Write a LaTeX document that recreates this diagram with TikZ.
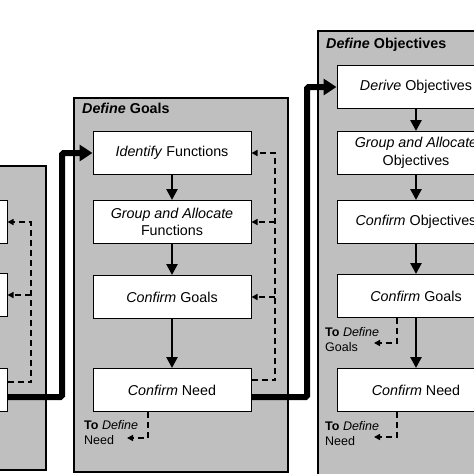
\documentclass[tikz,border=0pt]{standalone}
\usepackage{fontspec}
\setmainfont{Liberation Sans}
\usetikzlibrary{arrows.meta}

\begin{document}
\begin{tikzpicture}[x=1pt,y=-1pt,
  panel/.style={draw, line width=1.2pt, fill=black!25},
  task/.style={draw, line width=1pt, fill=white, minimum width=158pt, minimum height=43pt,
    inner sep=0pt, align=center, font=\fontsize{14.3}{17.5}\selectfont},
  title/.style={anchor=west, inner sep=0pt, font=\bfseries\fontsize{14.3}{16}\selectfont},
  flow/.style={line width=2.6pt, -{Triangle[length=11pt,width=11pt]}},
  handoff/.style={line width=6pt, rounded corners=1.5pt, -{Triangle[length=13pt,width=16pt]}},
  loop/.style={dash pattern=on 6pt off 4pt, line width=1.7pt, -{Triangle[length=6pt,width=6pt]}},
  note/.style={anchor=north west, align=left, inner sep=0pt, font=\fontsize{12.5}{15.5}\selectfont}]
  \useasboundingbox (0,0) rectangle (474,474);
  \clip (0,0) rectangle (474,474);

  % the three stages
  \draw[panel] (-200,166) rectangle (46,470);
  \draw[panel] (74,98) rectangle (288,472);
  \draw[panel] (318,31) rectangle (520,490);

  \node[title] (goalsTitle) at (82,108) {\textit{Define} Goals};
  \node[title] (objTitle) at (326,45) {\textit{Define} Objectives};

  % stage on the left (cut off)
  \node[task] (needA) at (-72,222) {};
  \node[task] (needB) at (-72,295) {};
  \node[task] (needC) at (-72,390) {};

  % Define Goals
  \node[task] (idFun) at (172,153) {\textit{Identify} Functions};
  \node[task] (grpFun) at (172,222) {\textit{Group and Allocate}\\Functions};
  \node[task] (cfmGoals) at (172,297) {\textit{Confirm} Goals};
  \node[task] (cfmNeed) at (172,390) {\textit{Confirm} Need};

  % Define Objectives
  \node[task] (drvObj) at (416,87) {\textit{Derive} Objectives};
  \node[task] (grpObj) at (416,153) {\textit{Group and Allocate}\\Objectives};
  \node[task] (cfmObj) at (416,222) {\textit{Confirm} Objectives};
  \node[task] (cfmGoalsO) at (416,296) {\textit{Confirm} Goals};
  \node[task] (cfmNeedO) at (416,390) {\textit{Confirm} Need};

  \draw[flow] (idFun) -- (grpFun);
  \draw[flow] (grpFun) -- (cfmGoals);
  \draw[flow] (cfmGoals) -- (cfmNeed);
  \draw[flow] (drvObj) -- (grpObj);
  \draw[flow] (grpObj) -- (cfmObj);
  \draw[flow] (cfmObj) -- (cfmGoalsO);
  \draw[flow] (cfmGoalsO) -- (cfmNeedO);

  % feedback loops
  \coordinate (needLoop) at (31,222);
  \draw[loop] ([yshift=8pt]needC.east) -| (needLoop) -- (needA.east);
  \draw[loop] (needLoop |- needB.east) -- (needB.east);

  \coordinate (goalsLoop) at (275,153);
  \draw[loop] ([yshift=10pt]cfmNeed.east) -| (goalsLoop) -- (idFun.east);
  \draw[loop] (goalsLoop |- grpFun.east) -- (grpFun.east);
  \draw[loop] (goalsLoop |- cfmGoals.east) -- (cfmGoals.east);

  % hand-offs between stages
  \coordinate (needUp) at (62,153);
  \coordinate (goalsUp) at (307,87);
  \draw[handoff] ([yshift=-7pt]needC.east) -| (needUp) -- (idFun.west);
  \draw[handoff] ([yshift=-7pt]cfmNeed.east) -| (goalsUp) -- (drvObj.west);

  % back to earlier stages
  \coordinate (toNeedG) at (127,438);
  \coordinate (toGoalsO) at (374,343);
  \coordinate (toNeedO) at (374,437);
  \draw[loop] ([xshift=-24pt]cfmNeed.south) |- (toNeedG);
  \draw[loop] ([xshift=-19pt]cfmGoalsO.south) |- (toGoalsO);
  \draw[loop] ([xshift=-19pt]cfmNeedO.south) |- (toNeedO);
  \node[note] (noteNeedG) at (84,420) {\textbf{To} \textit{Define}\\Need};
  \node[note] (noteGoalsO) at (325,327) {\textbf{To} \textit{Define}\\Goals};
  \node[note] (noteNeedO) at (325,421) {\textbf{To} \textit{Define}\\Need};
\end{tikzpicture}
\end{document}
